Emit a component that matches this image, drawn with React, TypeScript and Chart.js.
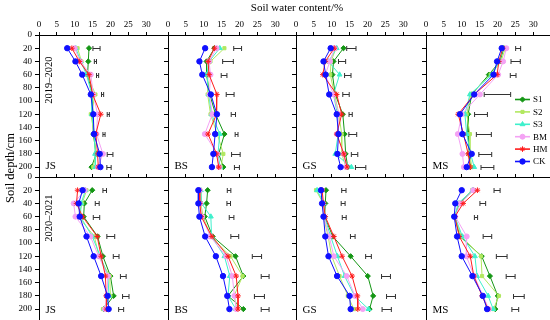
import React, { useEffect, useRef } from 'react';
import { Chart, registerables } from 'chart.js';
import { drawPoint } from 'chart.js/helpers';

Chart.register(...registerables);

// ---------- data ----------
const DEPTHS = [20, 40, 60, 90, 120, 150, 180, 200];
const SERIES = ['S1', 'S2', 'S3', 'BM', 'HM', 'CK'];
const X_TICKS = [0, 5, 10, 15, 20, 25, 30];
const Y_TICKS = [0, 20, 40, 60, 80, 100, 120, 140, 160, 180, 200];
const YEARS = ['2019–2020', '2020–2021'];
const SITES = ['JS', 'BS', 'GS', 'MS'];

// JS 2019–2020
const JS19_S1 = [14.0, 13.8, 13.6, 15.0, 15.0, 15.2, 16.0, 14.7];
const JS19_S2 = [10.8, 11.9, 13.5, 15.8, 14.5, 15.5, 15.9, 15.2];
const JS19_S3 = [10.3, 11.7, 13.3, 14.8, 14.8, 15.5, 15.7, 15.8];
const JS19_BM = [10.0, 11.5, 14.5, 15.2, 16.4, 16.1, 17.9, 16.5];
const JS19_HM = [9.2, 11.3, 14.0, 15.0, 17.3, 15.9, 16.4, 16.6];
const JS19_CK = [7.9, 10.2, 12.1, 14.5, 15.2, 15.4, 17.0, 17.2];
const JS19_ERR_MID = [16.1, 15.8, 16.4, 17.8, 19.4, 18.2, 19.9, 19.6];
const JS19_ERR_HALF = [1.0, 0.3, 0.3, 0.3, 0.3, 0.3, 0.8, 0.6];

// BS 2019–2020
const BS19_S1 = [13.0, 10.8, 10.8, 11.7, 13.3, 15.8, 14.2, 15.5];
const BS19_S2 = [15.8, 11.9, 11.0, 11.1, 11.9, 13.8, 15.5, 14.8];
const BS19_S3 = [14.5, 11.5, 10.9, 11.4, 12.2, 14.5, 14.0, 14.6];
const BS19_BM = [13.6, 11.5, 11.9, 11.6, 12.4, 10.3, 13.8, 14.3];
const BS19_HM = [13.0, 11.2, 11.5, 13.7, 13.6, 11.2, 13.6, 14.2];
const BS19_CK = [10.4, 8.8, 9.6, 12.0, 13.7, 13.2, 12.7, 12.3];
const BS19_ERR_MID = [19.5, 16.8, 15.7, 17.4, 18.3, 19.2, 19.0, 19.3];
const BS19_ERR_HALF = [1.1, 1.5, 0.8, 1.1, 0.6, 0.4, 1.2, 0.7];

// GS 2019–2020
const GS19_S1 = [13.3, 10.5, 10.2, 11.0, 13.1, 13.6, 13.9, 14.5];
const GS19_S2 = [11.2, 9.8, 9.6, 10.8, 12.0, 12.8, 12.8, 14.0];
const GS19_S3 = [11.4, 9.1, 12.2, 10.5, 11.6, 11.8, 11.0, 15.5];
const GS19_BM = [10.8, 9.5, 8.2, 10.5, 12.0, 11.5, 13.3, 14.0];
const GS19_HM = [10.7, 8.2, 7.5, 11.4, 12.8, 11.4, 13.4, 14.3];
const GS19_CK = [9.7, 7.7, 8.3, 9.3, 11.4, 11.9, 11.6, 12.5];
const GS19_ERR_MID = [15.5, 12.9, 14.5, 14.0, 15.3, 15.9, 16.4, 18.1];
const GS19_ERR_HALF = [1.3, 1.0, 0.9, 0.9, 0.45, 1.1, 0.9, 1.45];

// MS 2019–2020
const MS19_S1 = [21.8, 20.7, 17.6, 12.8, 11.8, 11.8, 12.1, 12.4];
const MS19_S2 = [22.2, 21.0, 18.1, 12.5, 11.4, 12.3, 12.3, 12.8];
const MS19_S3 = [21.6, 20.5, 18.4, 12.3, 10.9, 11.4, 12.5, 13.5];
const MS19_BM = [22.5, 21.6, 20.2, 15.1, 10.0, 8.9, 10.2, 10.6];
const MS19_HM = [21.5, 20.4, 19.9, 13.5, 9.0, 10.5, 11.8, 12.4];
const MS19_CK = [21.2, 19.9, 18.9, 13.5, 9.5, 10.2, 12.8, 11.4];
const MS19_ERR_MID = [25.8, 25.1, 24.4, 20.0, 15.4, 16.2, 16.6, 17.2];
const MS19_ERR_HALF = [0.7, 1.3, 0.8, 3.7, 1.8, 2.1, 1.8, 1.8];

// JS 2020–2021
const JS20_S1 = [14.9, 12.7, 12.5, 16.4, 17.9, 20.0, 20.9, 18.1];
const JS20_S2 = [13.3, 12.1, 11.0, 15.5, 16.8, 19.8, 20.0, 17.9];
const JS20_S3 = [13.0, 11.8, 11.6, 14.9, 17.2, 19.3, 19.6, 18.4];
const JS20_BM = [12.8, 9.7, 10.2, 14.4, 16.7, 19.3, 19.0, 18.5];
const JS20_HM = [10.8, 10.5, 12.2, 16.3, 17.4, 18.6, 18.8, 18.9];
const JS20_CK = [12.2, 11.1, 11.4, 13.3, 15.3, 17.4, 19.2, 19.5];
const JS20_ERR_MID = [18.4, 16.3, 16.1, 20.1, 21.6, 23.6, 24.3, 23.0];
const JS20_ERR_HALF = [0.5, 0.55, 0.9, 1.1, 0.8, 0.8, 0.9, 0.7];

// BS 2020–2021
const BS20_S1 = [11.1, 10.8, 10.3, 12.5, 18.9, 21.1, 16.8, 21.1];
const BS20_S2 = [9.0, 9.2, 9.8, 12.0, 17.5, 20.9, 18.5, 19.3];
const BS20_S3 = [9.2, 9.4, 12.0, 12.2, 15.8, 17.3, 16.8, 19.0];
const BS20_BM = [8.9, 9.0, 9.5, 11.8, 16.3, 18.0, 18.6, 19.1];
const BS20_HM = [8.7, 8.9, 9.3, 12.3, 16.8, 19.1, 19.6, 19.6];
const BS20_CK = [8.5, 8.5, 8.8, 10.4, 13.4, 15.4, 16.6, 17.2];
const BS20_ERR_MID = [17.1, 17.0, 17.8, 18.7, 24.9, 27.2, 25.6, 27.2];
const BS20_ERR_HALF = [0.5, 0.5, 0.65, 1.1, 1.3, 1.1, 1.4, 1.1];

// GS 2020–2021
const GS20_S1 = [8.4, 8.2, 8.0, 10.3, 15.3, 20.1, 21.6, 20.6];
const GS20_S2 = [5.6, 7.6, 7.7, 9.0, 10.0, 12.2, 14.5, 16.2];
const GS20_S3 = [5.9, 7.8, 8.0, 9.7, 11.6, 13.6, 16.4, 20.3];
const GS20_BM = [7.2, 7.5, 7.8, 9.3, 10.6, 14.2, 16.5, 18.7];
const GS20_HM = [7.3, 7.7, 8.2, 10.6, 12.9, 15.7, 17.2, 17.3];
const GS20_CK = [7.0, 7.3, 7.7, 8.2, 9.1, 11.5, 15.0, 15.3];
const GS20_ERR_MID = [13.4, 13.2, 13.5, 15.9, 20.3, 25.2, 26.6, 25.4];
const GS20_ERR_HALF = [0.6, 0.55, 0.55, 0.65, 0.8, 1.25, 1.25, 1.3];

// MS 2020–2021
const MS20_S1 = [13.2, 9.4, 8.0, 9.5, 15.6, 17.9, 20.1, 19.4];
const MS20_S2 = [12.9, 9.2, 8.0, 9.9, 15.4, 15.7, 20.4, 18.9];
const MS20_S3 = [13.0, 9.0, 8.1, 10.2, 13.7, 14.3, 17.4, 18.8];
const MS20_BM = [13.2, 9.6, 8.2, 11.4, 11.3, 13.5, 16.0, 17.6];
const MS20_HM = [14.4, 10.4, 8.1, 9.3, 12.4, 13.4, 15.7, 17.4];
const MS20_CK = [10.0, 8.2, 7.9, 8.7, 10.0, 13.0, 15.9, 17.1];
const MS20_ERR_MID = [19.9, 15.9, 14.0, 17.2, 21.2, 23.7, 26.0, 25.0];
const MS20_ERR_HALF = [0.85, 0.8, 0.45, 1.2, 1.5, 1.25, 1.5, 0.95];

const PANELS = [
  { row: 0, col: 0, series: [JS19_S1, JS19_S2, JS19_S3, JS19_BM, JS19_HM, JS19_CK], mid: JS19_ERR_MID, half: JS19_ERR_HALF },
  { row: 0, col: 1, series: [BS19_S1, BS19_S2, BS19_S3, BS19_BM, BS19_HM, BS19_CK], mid: BS19_ERR_MID, half: BS19_ERR_HALF },
  { row: 0, col: 2, series: [GS19_S1, GS19_S2, GS19_S3, GS19_BM, GS19_HM, GS19_CK], mid: GS19_ERR_MID, half: GS19_ERR_HALF },
  { row: 0, col: 3, series: [MS19_S1, MS19_S2, MS19_S3, MS19_BM, MS19_HM, MS19_CK], mid: MS19_ERR_MID, half: MS19_ERR_HALF },
  { row: 1, col: 0, series: [JS20_S1, JS20_S2, JS20_S3, JS20_BM, JS20_HM, JS20_CK], mid: JS20_ERR_MID, half: JS20_ERR_HALF },
  { row: 1, col: 1, series: [BS20_S1, BS20_S2, BS20_S3, BS20_BM, BS20_HM, BS20_CK], mid: BS20_ERR_MID, half: BS20_ERR_HALF },
  { row: 1, col: 2, series: [GS20_S1, GS20_S2, GS20_S3, GS20_BM, GS20_HM, GS20_CK], mid: GS20_ERR_MID, half: GS20_ERR_HALF },
  { row: 1, col: 3, series: [MS20_S1, MS20_S2, MS20_S3, MS20_BM, MS20_HM, MS20_CK], mid: MS20_ERR_MID, half: MS20_ERR_HALF },
];

// ---------- styles / layout ----------
const FONT = '"Liberation Serif", "DejaVu Serif", "Times New Roman", serif';
const COLORS = ['#149614', '#b2e860', '#3ef0cc', '#f4a2f4', '#ff1c1c', '#1010ff'];
const POINT_STYLES = ['rectRot', 'rect', 'triangle', 'circle', 'star', 'circle'];
const RADII = [2.6, 2.2, 2.8, 2.5, 2.8, 2.7];
const ORDERS = [5, 4, 3, 2, 1, 0];

const COL_X = [39, 168, 296, 426];
const ROW_Y = [35, 177];
const AREA_W = 125;
const AREA_H = 142;
const PAD_L = 40;
const PAD_T = 30;
const PAD_R = 6;
const PAD_B = 12;
const X_MAX = 35;
const Y_MAX = 215;

const LEG_DX = 89;
const LEG_LEN = 15;
const LEG_DY0 = 64.5;
const LEG_STEP = 12.4;

function makeErrPlugin(mid: number[], half: number[]) {
  return {
    id: 'errbars',
    afterDatasetsDraw(chart: any) {
      const { ctx } = chart;
      const xs = chart.scales.x;
      const ys = chart.scales.y;
      ctx.save();
      ctx.strokeStyle = '#333';
      ctx.lineWidth = 1;
      DEPTHS.forEach((d, i) => {
        const x1 = xs.getPixelForValue(mid[i] - half[i]);
        const x2 = xs.getPixelForValue(mid[i] + half[i]);
        const y = Math.round(ys.getPixelForValue(d)) + 0.5;
        ctx.beginPath();
        ctx.moveTo(x1, y);
        ctx.lineTo(x2, y);
        ctx.moveTo(x1, y - 2.5);
        ctx.lineTo(x1, y + 2.5);
        ctx.moveTo(x2, y - 2.5);
        ctx.lineTo(x2, y + 2.5);
        ctx.stroke();
      });
      ctx.restore();
    },
  };
}

const legendPlugin = {
  id: 'panelLegend',
  afterDraw(chart: any) {
    const { ctx, chartArea: a } = chart;
    ctx.save();
    SERIES.forEach((name, i) => {
      const y = a.top + LEG_DY0 + i * LEG_STEP;
      const x0 = a.left + LEG_DX;
      ctx.strokeStyle = COLORS[i];
      ctx.fillStyle = COLORS[i];
      ctx.lineWidth = 1.6;
      ctx.beginPath();
      ctx.moveTo(x0, y);
      ctx.lineTo(x0 + LEG_LEN, y);
      ctx.stroke();
      ctx.lineWidth = 1;
      drawPoint(ctx, { pointStyle: POINT_STYLES[i], radius: RADII[i], rotation: 0, borderWidth: 1 } as any, x0 + LEG_LEN / 2, y);
      ctx.fillStyle = '#000';
      ctx.font = `9px ${FONT}`;
      ctx.textBaseline = 'middle';
      ctx.textAlign = 'left';
      ctx.fillText(name, x0 + LEG_LEN + 3, y + 0.5);
    });
    ctx.restore();
  },
};

function Panel({ p }: { p: any }) {
  const ref = useRef<HTMLCanvasElement>(null);
  const w = PAD_L + AREA_W + PAD_R;
  const h = PAD_T + AREA_H + PAD_B;
  useEffect(() => {
    const cv = ref.current!;
    const datasets = SERIES.map((name, s) => ({
      label: name,
      data: DEPTHS.map((d, i) => ({ x: p.series[s][i], y: d })),
      borderColor: COLORS[s],
      backgroundColor: COLORS[s],
      pointBackgroundColor: COLORS[s],
      pointBorderColor: COLORS[s],
      pointStyle: POINT_STYLES[s],
      pointRadius: RADII[s],
      pointBorderWidth: 1,
      borderWidth: 1,
      tension: 0,
      fill: false,
      order: ORDERS[s],
    }));
    const plugins: any[] = [makeErrPlugin(p.mid, p.half)];
    if (p.row === 0 && p.col === 3) plugins.push(legendPlugin);
    const chart = new Chart(cv, {
      type: 'line',
      data: { datasets },
      plugins,
      options: {
        animation: false,
        responsive: false,
        events: [],
        layout: { padding: { left: 0, top: 0, right: PAD_R, bottom: PAD_B } },
        plugins: { legend: { display: false }, tooltip: { enabled: false }, title: { display: false } },
        scales: {
          x: {
            type: 'linear',
            position: 'top',
            min: 0,
            max: X_MAX,
            afterBuildTicks: (sc: any) => { sc.ticks = X_TICKS.map((v) => ({ value: v })); },
            afterFit: (sc: any) => { sc.height = PAD_T; },
            ticks: {
              display: p.row === 0,
              font: { family: FONT, size: 9 },
              color: '#000',
              padding: 2,
              maxRotation: 0,
              autoSkip: false,
              includeBounds: false,
            },
            grid: { drawOnChartArea: false, drawTicks: true, tickLength: 3, color: '#000' },
            border: { display: true, color: '#000', width: 1 },
          },
          y: {
            type: 'linear',
            position: 'left',
            reverse: true,
            min: 0,
            max: Y_MAX,
            afterBuildTicks: (sc: any) => { sc.ticks = Y_TICKS.map((v) => ({ value: v })); },
            afterFit: (sc: any) => { sc.width = PAD_L; },
            ticks: {
              display: p.col === 0,
              font: { family: FONT, size: 9 },
              color: '#000',
              padding: 3,
              autoSkip: false,
              includeBounds: false,
            },
            grid: { drawOnChartArea: false, drawTicks: true, tickLength: 4, color: '#000' },
            border: { display: true, color: '#000', width: 1 },
          },
        },
      } as any,
    });
    return () => chart.destroy();
  }, []);
  return (
    <canvas
      ref={ref}
      width={w}
      height={h}
      style={{ position: 'absolute', left: COL_X[p.col] - PAD_L, top: ROW_Y[p.row] - PAD_T, width: w, height: h }}
    />
  );
}

const txt = (extra: any): any => ({
  position: 'absolute',
  whiteSpace: 'nowrap',
  lineHeight: 1,
  fontFamily: FONT,
  color: '#000',
  ...extra,
});

export default function App() {
  return (
    <div
      style={{
        position: 'fixed',
        left: 0,
        top: 0,
        width: 550,
        height: 320,
        overflow: 'hidden',
        background: '#fff',
      }}
    >
      {PANELS.map((p, i) => (
        <Panel key={i} p={p} />
      ))}
      <div style={txt({ left: 297, top: 6.5, fontSize: 11, transform: 'translate(-50%, -50%)' })}>
        Soil water content/%
      </div>
      <div style={txt({ left: 10, top: 168, fontSize: 12.5, transform: 'translate(-50%, -50%) rotate(-90deg)' })}>
        Soil depth/cm
      </div>
      {YEARS.map((y, r) => (
        <div
          key={y}
          style={txt({ left: 49, top: r === 0 ? 80 : 218, fontSize: 10.5, transform: 'translate(-50%, -50%) rotate(-90deg)' })}
        >
          {y}
        </div>
      ))}
      {[0, 1].map((r) =>
        SITES.map((s, c) => (
          <div
            key={s + r}
            style={txt({ left: COL_X[c] + 6.5, top: r === 0 ? 165 : 309, fontSize: 11, transform: 'translateY(-50%)' })}
          >
            {s}
          </div>
        ))
      )}
    </div>
  );
}
